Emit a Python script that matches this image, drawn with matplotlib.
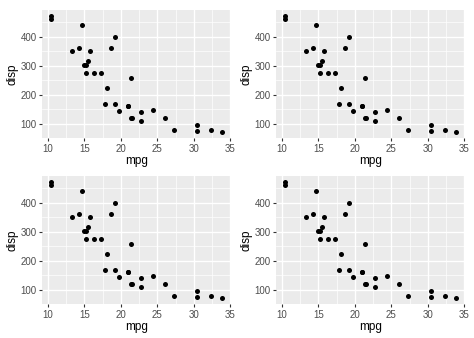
import matplotlib
matplotlib.use('Agg')
import matplotlib.pyplot as plt
from matplotlib.ticker import MultipleLocator

# mtcars: mpg vs disp
mpg = [21.0, 21.0, 22.8, 21.4, 18.7, 18.1, 14.3, 24.4, 22.8, 19.2, 17.8,
       16.4, 17.3, 15.2, 10.4, 10.4, 14.7, 32.4, 30.4, 33.9, 21.5, 15.5,
       15.2, 13.3, 19.2, 27.3, 26.0, 30.4, 15.8, 19.7, 15.0, 21.4]
disp = [160, 160, 108, 258, 360, 225, 360, 146.7, 140.8, 167.6, 167.6,
        275.8, 275.8, 275.8, 472, 460, 440, 78.7, 75.7, 71.1, 120.1, 318,
        304, 350, 400, 79, 120.3, 95.1, 351, 145, 301, 121]

x_ticks = [10, 15, 20, 25, 30, 35]
y_ticks = [100, 200, 300, 400]

plt.rcParams['font.family'] = ['Liberation Sans', 'DejaVu Sans']

fig = plt.figure(figsize=(4.74, 3.38), dpi=100)

W, H = 474.0, 338.0
panel_boxes = [(42, 10), (276, 10), (42, 176), (276, 176)]
pw, ph = 189, 128


def gg_panel(ax):
    ax.set_facecolor('#EBEBEB')
    ax.scatter(mpg, disp, s=13, color='black', linewidths=0, zorder=3)
    xr = max(mpg) - min(mpg)
    yr = max(disp) - min(disp)
    ax.set_xlim(min(mpg) - 0.05 * xr, max(mpg) + 0.05 * xr)
    ax.set_ylim(min(disp) - 0.05 * yr, max(disp) + 0.05 * yr)
    ax.set_xticks(x_ticks)
    ax.set_yticks(y_ticks)
    ax.xaxis.set_minor_locator(MultipleLocator(2.5))
    ax.yaxis.set_minor_locator(MultipleLocator(50))
    ax.grid(which='major', color='white', linewidth=1.0, zorder=0)
    ax.grid(which='minor', color='white', linewidth=0.5, zorder=0)
    ax.set_axisbelow(True)
    for s in ax.spines.values():
        s.set_visible(False)
    ax.tick_params(which='major', length=2.5, width=0.8, color='#333333',
                   labelcolor='#4D4D4D', labelsize=7, pad=1.5)
    ax.tick_params(which='minor', length=0)
    ax.set_xlabel('mpg', fontsize=8.5, labelpad=1)
    ax.set_ylabel('disp', fontsize=8.5, labelpad=1)


for (px, py) in panel_boxes:
    ax = fig.add_axes([px / W, 1 - (py + ph) / H, pw / W, ph / H])
    gg_panel(ax)

fig.savefig('out.png', dpi=100)
